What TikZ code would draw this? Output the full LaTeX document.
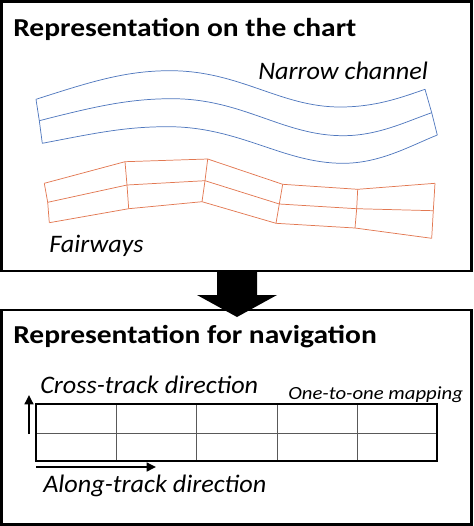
\documentclass[tikz,border=0pt]{standalone}
\usepackage{fontspec}
\setmainfont{Carlito}
\usetikzlibrary{arrows.meta}
\definecolor{chartblue}{RGB}{80,120,190}
\definecolor{fairorange}{RGB}{226,120,82}
\tikzset{
  panel/.style={line width=2.2pt},
  heading/.style={anchor=base west,inner sep=0pt,xscale=1.14,font=\fontsize{19.4pt}{21pt}\selectfont\bfseries},
  tag/.style={anchor=base west,inner sep=0pt,xscale=1.04,font=\fontsize{18.9pt}{21pt}\selectfont\itshape},
  smalltag/.style={anchor=base west,inner sep=0pt,xscale=1.12,font=\fontsize{13.9pt}{15pt}\selectfont\itshape},
  channel/.style={chartblue,line width=0.55pt},
  fairway/.style={fairorange,line width=0.55pt},
  axis/.style={line width=2.2pt,-{Triangle[length=7pt,width=6.5pt]}}
}
\begin{document}
\begin{tikzpicture}[x=0.75pt,y=0.75pt,yscale=-1,xscale=1]
	\useasboundingbox (0,0) rectangle (474,526);
	% panels
	\draw [panel] (1.5,1.5) rectangle (471.5,271);
	\draw [panel] (1.5,310) rectangle (471.5,524.5);
	\node [heading] (charttitle) at (13,36.5) {Representation on the chart};
	\node [heading] (navtitle) at (13,343) {Representation for navigation};
	% narrow channel
	\draw [channel] (36,99.3) .. controls (90,82) and (125,70.7) .. (170,70.7) .. controls (240,70.7) and (280,107) .. (340,107) .. controls (375,107) and (400,98) .. (425,89.3) ;
	\draw [channel] (39.3,120.7) .. controls (93,107) and (128,98.7) .. (172,98.7) .. controls (243,98.7) and (283,135.7) .. (343,135.7) .. controls (378,135.7) and (405,122) .. (431.7,112.7) ;
	\draw [channel] (42.3,143.3) .. controls (96,133) and (125,126.7) .. (168,126.7) .. controls (240,126.7) and (283,163.3) .. (343,163.3) .. controls (380,163.3) and (410,146) .. (437.3,135) ;
	\draw [channel] (36,99.3) -- (39.3,120.7) -- (42.3,143.3) ;
	\draw [channel] (425,89.3) -- (431.7,112.7) -- (437.3,135) ;
	\node [tag] (channellabel) at (258,79) {Narrow channel};
	% fairways
	\foreach \i/\xt/\yt/\xm/\ym/\xb/\yb in {0/44.3/183.3/47.7/202.3/49.3/222.7, 1/125/161.7/127/185/128.7/208.7, 2/207.7/159/205/180.7/202/201.7, 3/282.7/184.3/279.3/204/276/223.3, 4/357.7/189.3/356.7/208.7/355/228, 5/435/183.3/433.3/210.7/431.7/238.3}
	{
		\coordinate (t\i) at (\xt,\yt);
		\coordinate (m\i) at (\xm,\ym);
		\coordinate (b\i) at (\xb,\yb);
		\draw [fairway] (t\i) -- (m\i) -- (b\i) ;
	}
	\draw [fairway] (t0) -- (t1) -- (t2) -- (t3) -- (t4) -- (t5) ;
	\draw [fairway] (m0) -- (m1) -- (m2) -- (m3) -- (m4) -- (m5) ;
	\draw [fairway] (b0) -- (b1) -- (b2) -- (b3) -- (b4) -- (b5) ;
	\node [tag] (fairwaylabel) at (49,252) {Fairways};
	% transition arrow
	\fill (217,271) -- (257,271) -- (257,295) -- (277,295) -- (237,317) -- (197,295) -- (217,295) -- cycle ;
	% navigation grid
	\foreach \x in {116,196,277,357}
	{
		\draw [black!65,line width=0.6pt] (\x,404) -- (\x,461) ;
	}
	\draw [black!65,line width=0.6pt] (36,433) -- (437,433) ;
	\draw [line width=0.8pt] (36,404) rectangle (437,461) ;
	\coordinate (crossfoot) at (29,434);
	\coordinate (crosstip) at (29,395);
	\coordinate (alongfoot) at (36,467);
	\coordinate (alongtip) at (156,467);
	\draw [axis] (crossfoot) -- (crosstip) ;
	\draw [axis] (alongfoot) -- (alongtip) ;
	\node [tag] (crosslabel) at (40,393) {Cross-track direction};
	\node [tag] (alonglabel) at (43,492) {Along-track direction};
	\node [smalltag] (mappinglabel) at (288,399) {One-to-one mapping};
\end{tikzpicture}
\end{document}
